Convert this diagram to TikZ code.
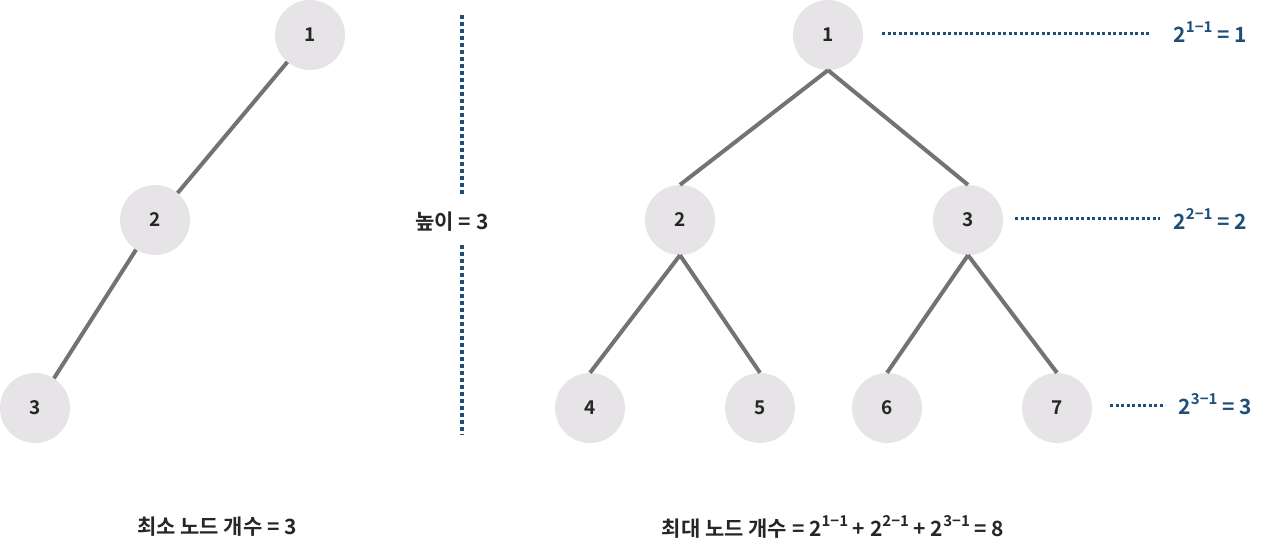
\documentclass[tikz,border=0pt]{standalone}
\usepackage{fontspec}
\setmainfont{Noto Sans CJK KR}[BoldFont={* Bold}]
\definecolor{nodegray}{HTML}{E6E4E6}
\definecolor{edgegray}{HTML}{737373}
\definecolor{dotblue}{HTML}{1F4E79}
\newcommand{\sps}[1]{\raisebox{0.5em}{\fontsize{15pt}{15pt}\selectfont #1}}
\tikzset{
  tn/.style={circle,fill=nodegray,minimum size=70pt,inner sep=0pt,font=\fontsize{19pt}{19pt}\selectfont\bfseries,text=black!85},
  ed/.style={draw=edgegray,line width=4pt},
  dl/.style={draw=dotblue,line width=3pt,dash pattern=on 3pt off 2.5pt},
  dv/.style={draw=dotblue,line width=4pt,dash pattern=on 4pt off 3pt},
  lbl/.style={font=\fontsize{21pt}{21pt}\selectfont\bfseries,text=black!85},
  blbl/.style={font=\fontsize{21pt}{21pt}\selectfont\bfseries,text=dotblue}
}
\begin{document}
\begin{tikzpicture}[x=1pt,y=-1pt]
\useasboundingbox (0,0) rectangle (1280,555);
% left tree
\node[tn] (a1) at (310,35) {1};
\node[tn] (a2) at (155,220) {2};
\node[tn] (a3) at (35,408) {3};
\draw[ed] (a1) -- (a2);
\draw[ed] (a2) -- (a3);
% height
\coordinate (h1) at (462,15);
\coordinate (h2) at (462,195);
\coordinate (h3) at (462,245);
\coordinate (h4) at (462,435);
\draw[dv] (h1) -- (h2);
\draw[dv] (h3) -- (h4);
\node[lbl] (ht) at (452,222) {높이 = 3};
% right tree
\node[tn] (b1) at (828,35) {1};
\node[tn] (b2) at (680,220) {2};
\node[tn] (b3) at (968,220) {3};
\node[tn] (b4) at (590,408) {4};
\node[tn] (b5) at (760,408) {5};
\node[tn] (b6) at (887,408) {6};
\node[tn] (b7) at (1057,408) {7};
\draw[ed] (b1.south) -- (b2.north);
\draw[ed] (b1.south) -- (b3.north);
\draw[ed] (b2.south) -- (b4.north);
\draw[ed] (b2.south) -- (b5.north);
\draw[ed] (b3.south) -- (b6.north);
\draw[ed] (b3.south) -- (b7.north);
% level lines
\coordinate (l1a) at (882,33); \coordinate (l1b) at (1150,33);
\coordinate (l2a) at (1015,218); \coordinate (l2b) at (1160,218);
\coordinate (l3a) at (1110,405); \coordinate (l3b) at (1165,405);
\draw[dl] (l1a) -- (l1b);
\draw[dl] (l2a) -- (l2b);
\draw[dl] (l3a) -- (l3b);
\node[blbl,anchor=west] (t1) at (1170,32) {2\sps{1−1} = 1};
\node[blbl,anchor=west] (t2) at (1170,219) {2\sps{2−1} = 2};
\node[blbl,anchor=west] (t3) at (1175,404) {2\sps{3−1} = 3};
% bottom labels
\node[lbl] (m1) at (217,527) {최소 노드 개수 = 3};
\node[lbl] (m2) at (833,527) {최대 노드 개수 = 2\sps{1−1} + 2\sps{2−1} + 2\sps{3−1} = 8};
\end{tikzpicture}
\end{document}
